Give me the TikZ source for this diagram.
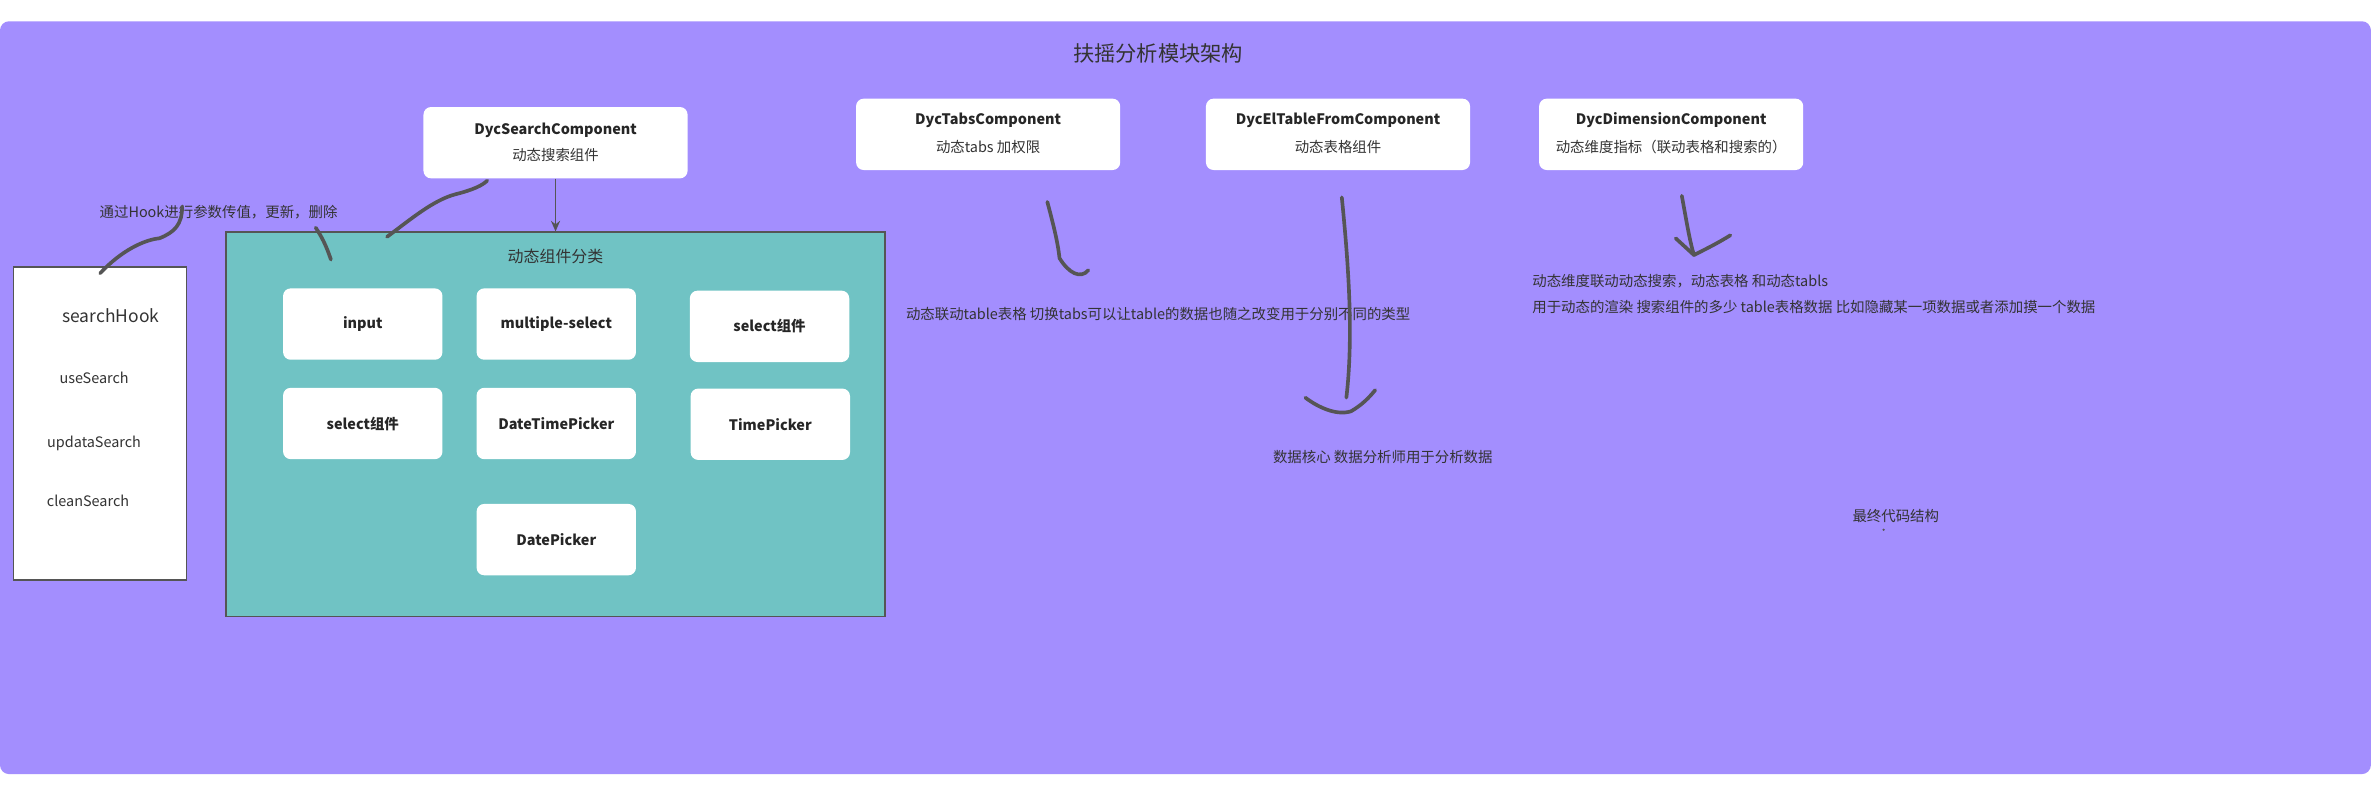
\documentclass[tikz,border=0pt]{standalone}
\usepackage{fontspec}
\setmainfont{Noto Sans CJK SC}
\usetikzlibrary{arrows.meta}
\definecolor{bgp}{HTML}{A38EFE}
\definecolor{teal1}{HTML}{70C3C4}
\definecolor{ink}{HTML}{555555}
\tikzset{
 wbox/.style={draw=none,fill=white,rounded corners=5pt},
 lbl/.style={font=\fontsize{9.5}{11}\selectfont\bfseries,text=black!85},
 txt/.style={font=\fontsize{9.5}{11}\selectfont,text=black!80},
 hand/.style={draw=ink,line width=2.4pt,line cap=round,line join=round},
}
\begin{document}
\begin{tikzpicture}[x=1pt,y=-1pt]
\useasboundingbox (0,0) rectangle (1568,520);
\fill[white] (0,0) rectangle (1568,520);
\fill[bgp,rounded corners=6pt] (0,14) rectangle (1562,510);
\node[font=\fontsize{14}{16}\selectfont,text=black!80] (title) at (763,35) {扶摇分析模块架构};
% search component
\node[wbox,minimum width=174pt,minimum height=47pt] (dsc) at (366,94) {};
\node[lbl] (dsct) at (366,86) {DycSearchComponent};
\node[txt] (dscs) at (366,102) {动态搜索组件};
\node[draw=ink,fill=teal1,line width=1pt,minimum width=434pt,minimum height=253pt] (cls) at (366,279.5) {};
\draw[ink,line width=1.2pt,-{Stealth[length=7pt,width=6pt]}] (dsc.south) -- (cls.north);
\node[font=\fontsize{10.5}{12}\selectfont,text=black!80] (clst) at (366,169) {动态组件分类};
\foreach \n/\x/\y/\t in {i1/239/213.5/input, i2/366.5/213.5/multiple-select, i3/507/215/select组件,
  i4/239/279/select组件, i5/366.5/279/DateTimePicker, i6/507.5/279.5/TimePicker, i7/366.5/355.5/DatePicker}
  \node[wbox,minimum width=105pt,minimum height=47pt,lbl] (\n) at (\x,\y) {\t};
% hook box
\node[draw=ink,fill=white,line width=1pt,minimum width=114pt,minimum height=206pt] (hook) at (66,279) {};
\node[font=\fontsize{11.5}{13}\selectfont,text=black!80] (h0) at (73,208) {searchHook};
\node[txt] (h1) at (62,249) {useSearch};
\node[txt] (h2) at (62,292) {updataSearch};
\node[txt] (h3) at (58,330) {cleanSearch};
\node[txt] (hl) at (144,140) {通过Hook进行参数传值，更新，删除};
\draw[hand] (66,180) .. controls (80,165) and (95,158) .. (105,157) .. controls (115,153) and (120,148) .. (120,136);
\draw[hand] (208,150) .. controls (212,156) and (215,162) .. (218,171);
\draw[hand] (255,156) .. controls (270,145) and (285,132) .. (300,128) .. controls (312,125) and (318,122) .. (321,119);
% other components
\foreach \n/\x/\a/\b in {tabs/651/DycTabsComponent/动态tabs 加权限, tbl/881.5/DycElTableFromComponent/动态表格组件, dim/1101/DycDimensionComponent/动态维度指标（联动表格和搜索的）}{
  \node[wbox,minimum width=174pt,minimum height=47pt] (\n) at (\x,88.5) {};
  \node[lbl] (\n a) at (\x,79) {\a};
  \node[txt] (\n b) at (\x,97) {\b};
}
\draw[hand] (690,133) .. controls (694,148) and (697,160) .. (698,170) .. controls (704,180) and (712,184) .. (717,178);
\node[txt] (t1) at (763,207) {动态联动table表格 切换tabs可以让table的数据也随之改变用于分别不同的类型};
\draw[hand] (884,130) .. controls (888,170) and (892,220) .. (887,262);
\draw[hand] (860,262) .. controls (868,268) and (880,274) .. (890,271) .. controls (897,267) and (902,262) .. (906,257);
\node[txt] (t2) at (911,301) {数据核心 数据分析师用于分析数据};
\draw[hand] (1108,129) .. controls (1111,145) and (1113,158) .. (1116,168) .. controls (1124,164) and (1132,160) .. (1140,155);
\draw[hand] (1104,157) -- (1116,168);
\node[txt,anchor=west] (t3) at (1006,185) {动态维度联动动态搜索，动态表格 和动态tabls};
\node[txt,anchor=west] (t4) at (1006,202) {用于动态的渲染 搜索组件的多少 table表格数据 比如隐藏某一项数据或者添加摸一个数据};
\node[txt] (t5) at (1249,340) {最终代码结构};
\fill[ink] (1241,349) circle (0.8pt);
\end{tikzpicture}
\end{document}
